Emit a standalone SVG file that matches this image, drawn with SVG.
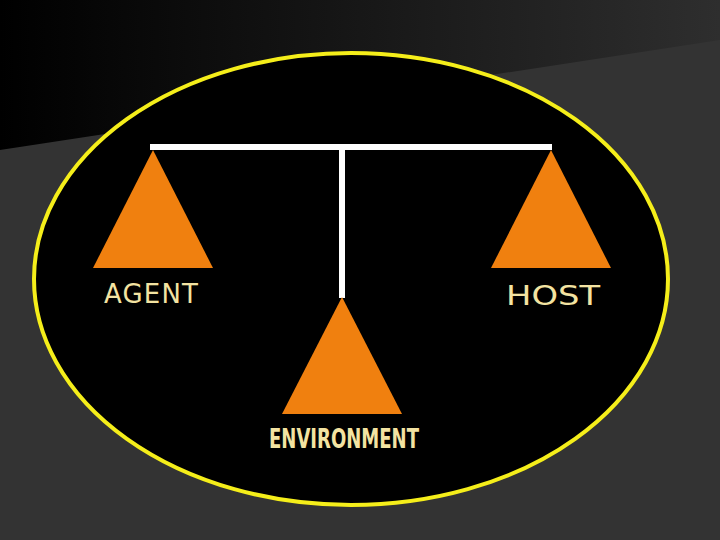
<svg xmlns="http://www.w3.org/2000/svg" width="720" height="540" viewBox="0 0 720 540">
<defs>
<linearGradient id="g" x1="0" y1="0" x2="1" y2="0"><stop offset="0" stop-color="#000"/><stop offset="1" stop-color="#2e2e2e"/></linearGradient>
<style>.tri{fill:#f0800f}.lbl{fill:#f3e3a2;font-family:"DejaVu Sans",sans-serif;font-size:26px;text-anchor:middle}.bar{stroke:#fff;stroke-width:6;fill:none}</style>
</defs>
<rect width="720" height="540" fill="#333"/>
<polygon points="0,0 720,0 720,40 0,150" fill="url(#g)"/>
<ellipse cx="351" cy="279" rx="317" ry="226" fill="#000" stroke="#f5ee1a" stroke-width="4"/>
<g id="connectors">
<line class="bar" x1="150" y1="147" x2="552" y2="147"/>
<line class="bar" x1="342" y1="147" x2="342" y2="298"/>
</g>
<g id="agent"><polygon class="tri" points="153,150 93,268 213,268"/><text class="lbl" x="151" y="303" textLength="94" lengthAdjust="spacing">AGENT</text></g>
<g id="host"><polygon class="tri" points="551,150 491,268 611,268"/><text class="lbl" x="553" y="305" textLength="94" lengthAdjust="spacingAndGlyphs">HOST</text></g>
<g id="environment"><polygon class="tri" points="342,297 282,414 402,414"/><text class="lbl" x="344" y="448" font-weight="bold" textLength="150" lengthAdjust="spacingAndGlyphs">ENVIRONMENT</text></g>
</svg>
